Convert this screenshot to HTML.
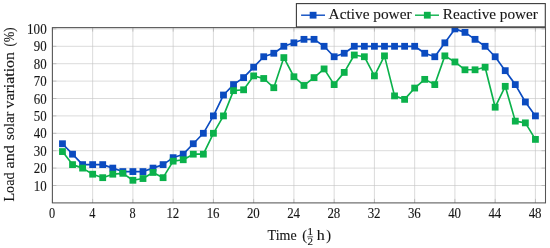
<!DOCTYPE html>
<html><head><meta charset="utf-8"><title>Load and solar variation</title>
<style>html,body{margin:0;padding:0;background:#fff}svg{display:block}</style></head>
<body>
<svg width="550" height="248" viewBox="0 0 550 248">
<rect width="550" height="248" fill="#fff"/>
<path d="M52.40 27.6V202.9M92.65 27.6V202.9M132.90 27.6V202.9M173.16 27.6V202.9M213.41 27.6V202.9M253.66 27.6V202.9M293.91 27.6V202.9M334.16 27.6V202.9M374.42 27.6V202.9M414.67 27.6V202.9M454.92 27.6V202.9M495.17 27.6V202.9M535.42 27.6V202.9M52.4 185.50H545.5M52.4 168.10H545.5M52.4 150.70H545.5M52.4 133.30H545.5M52.4 115.90H545.5M52.4 98.50H545.5M52.4 81.10H545.5M52.4 63.70H545.5M52.4 46.30H545.5M52.4 28.90H545.5" stroke="#c2c2c2" stroke-width="0.6" fill="none"/>
<path d="M52.40 202.9v-4M52.40 27.6v4M92.65 202.9v-4M92.65 27.6v4M132.90 202.9v-4M132.90 27.6v4M173.16 202.9v-4M173.16 27.6v4M213.41 202.9v-4M213.41 27.6v4M253.66 202.9v-4M253.66 27.6v4M293.91 202.9v-4M293.91 27.6v4M334.16 202.9v-4M334.16 27.6v4M374.42 202.9v-4M374.42 27.6v4M414.67 202.9v-4M414.67 27.6v4M454.92 202.9v-4M454.92 27.6v4M495.17 202.9v-4M495.17 27.6v4M535.42 202.9v-4M535.42 27.6v4M52.4 185.50h4M545.5 185.50h-4M52.4 168.10h4M545.5 168.10h-4M52.4 150.70h4M545.5 150.70h-4M52.4 133.30h4M545.5 133.30h-4M52.4 115.90h4M545.5 115.90h-4M52.4 98.50h4M545.5 98.50h-4M52.4 81.10h4M545.5 81.10h-4M52.4 63.70h4M545.5 63.70h-4M52.4 46.30h4M545.5 46.30h-4M52.4 28.90h4M545.5 28.90h-4" stroke="#9a9a9a" stroke-width="0.5" fill="none"/>
<polyline points="62.46,143.74 72.53,154.18 82.59,164.62 92.65,164.62 102.72,164.62 112.78,168.10 122.84,171.58 132.90,171.58 142.97,171.58 153.03,168.10 163.09,164.62 173.16,157.66 183.22,154.18 193.28,143.74 203.35,133.30 213.41,115.90 223.47,95.02 233.53,84.58 243.60,77.62 253.66,67.18 263.72,56.74 273.79,53.26 283.85,46.30 293.91,42.82 303.98,39.34 314.04,39.34 324.10,46.30 334.16,56.74 344.23,53.26 354.29,46.30 364.35,46.30 374.42,46.30 384.48,46.30 394.54,46.30 404.61,46.30 414.67,46.30 424.73,53.26 434.79,56.74 444.86,42.82 454.92,28.90 464.98,32.38 475.05,39.34 485.11,46.30 495.17,56.74 505.24,70.66 515.30,84.58 525.36,101.98 535.42,115.90" fill="none" stroke="#0b4bc0" stroke-width="1.65" stroke-linejoin="round"/><g fill="#0b4bc0"><rect x="59.06" y="140.34" width="6.8" height="6.8"/><rect x="69.13" y="150.78" width="6.8" height="6.8"/><rect x="79.19" y="161.22" width="6.8" height="6.8"/><rect x="89.25" y="161.22" width="6.8" height="6.8"/><rect x="99.31" y="161.22" width="6.8" height="6.8"/><rect x="109.38" y="164.70" width="6.8" height="6.8"/><rect x="119.44" y="168.18" width="6.8" height="6.8"/><rect x="129.50" y="168.18" width="6.8" height="6.8"/><rect x="139.57" y="168.18" width="6.8" height="6.8"/><rect x="149.63" y="164.70" width="6.8" height="6.8"/><rect x="159.69" y="161.22" width="6.8" height="6.8"/><rect x="169.76" y="154.26" width="6.8" height="6.8"/><rect x="179.82" y="150.78" width="6.8" height="6.8"/><rect x="189.88" y="140.34" width="6.8" height="6.8"/><rect x="199.95" y="129.90" width="6.8" height="6.8"/><rect x="210.01" y="112.50" width="6.8" height="6.8"/><rect x="220.07" y="91.62" width="6.8" height="6.8"/><rect x="230.13" y="81.18" width="6.8" height="6.8"/><rect x="240.20" y="74.22" width="6.8" height="6.8"/><rect x="250.26" y="63.78" width="6.8" height="6.8"/><rect x="260.32" y="53.34" width="6.8" height="6.8"/><rect x="270.39" y="49.86" width="6.8" height="6.8"/><rect x="280.45" y="42.90" width="6.8" height="6.8"/><rect x="290.51" y="39.42" width="6.8" height="6.8"/><rect x="300.58" y="35.94" width="6.8" height="6.8"/><rect x="310.64" y="35.94" width="6.8" height="6.8"/><rect x="320.70" y="42.90" width="6.8" height="6.8"/><rect x="330.76" y="53.34" width="6.8" height="6.8"/><rect x="340.83" y="49.86" width="6.8" height="6.8"/><rect x="350.89" y="42.90" width="6.8" height="6.8"/><rect x="360.95" y="42.90" width="6.8" height="6.8"/><rect x="371.02" y="42.90" width="6.8" height="6.8"/><rect x="381.08" y="42.90" width="6.8" height="6.8"/><rect x="391.14" y="42.90" width="6.8" height="6.8"/><rect x="401.21" y="42.90" width="6.8" height="6.8"/><rect x="411.27" y="42.90" width="6.8" height="6.8"/><rect x="421.33" y="49.86" width="6.8" height="6.8"/><rect x="431.39" y="53.34" width="6.8" height="6.8"/><rect x="441.46" y="39.42" width="6.8" height="6.8"/><rect x="451.52" y="25.50" width="6.8" height="6.8"/><rect x="461.58" y="28.98" width="6.8" height="6.8"/><rect x="471.65" y="35.94" width="6.8" height="6.8"/><rect x="481.71" y="42.90" width="6.8" height="6.8"/><rect x="491.77" y="53.34" width="6.8" height="6.8"/><rect x="501.84" y="67.26" width="6.8" height="6.8"/><rect x="511.90" y="81.18" width="6.8" height="6.8"/><rect x="521.96" y="98.58" width="6.8" height="6.8"/><rect x="532.02" y="112.50" width="6.8" height="6.8"/></g>
<polyline points="62.46,151.57 72.53,164.62 82.59,168.10 92.65,174.19 102.72,177.67 112.78,174.19 122.84,173.32 132.90,180.28 142.97,178.54 153.03,172.45 163.09,177.67 173.16,161.14 183.22,159.75 193.28,154.18 203.35,154.18 213.41,133.30 223.47,115.90 233.53,90.67 243.60,89.80 253.66,75.88 263.72,78.49 273.79,87.71 283.85,57.61 293.91,76.75 303.98,85.45 314.04,77.62 324.10,68.92 334.16,84.58 344.23,72.40 354.29,55.00 364.35,56.74 374.42,75.88 384.48,55.87 394.54,95.89 404.61,99.37 414.67,88.06 424.73,79.36 434.79,84.58 444.86,55.87 454.92,61.96 464.98,69.79 475.05,69.79 485.11,67.18 495.17,107.20 505.24,86.32 515.30,121.12 525.36,122.86 535.42,139.39" fill="none" stroke="#0bb14b" stroke-width="1.65" stroke-linejoin="round"/><g fill="#0bb14b"><rect x="59.06" y="148.17" width="6.8" height="6.8"/><rect x="69.13" y="161.22" width="6.8" height="6.8"/><rect x="79.19" y="164.70" width="6.8" height="6.8"/><rect x="89.25" y="170.79" width="6.8" height="6.8"/><rect x="99.31" y="174.27" width="6.8" height="6.8"/><rect x="109.38" y="170.79" width="6.8" height="6.8"/><rect x="119.44" y="169.92" width="6.8" height="6.8"/><rect x="129.50" y="176.88" width="6.8" height="6.8"/><rect x="139.57" y="175.14" width="6.8" height="6.8"/><rect x="149.63" y="169.05" width="6.8" height="6.8"/><rect x="159.69" y="174.27" width="6.8" height="6.8"/><rect x="169.76" y="157.74" width="6.8" height="6.8"/><rect x="179.82" y="156.35" width="6.8" height="6.8"/><rect x="189.88" y="150.78" width="6.8" height="6.8"/><rect x="199.95" y="150.78" width="6.8" height="6.8"/><rect x="210.01" y="129.90" width="6.8" height="6.8"/><rect x="220.07" y="112.50" width="6.8" height="6.8"/><rect x="230.13" y="87.27" width="6.8" height="6.8"/><rect x="240.20" y="86.40" width="6.8" height="6.8"/><rect x="250.26" y="72.48" width="6.8" height="6.8"/><rect x="260.32" y="75.09" width="6.8" height="6.8"/><rect x="270.39" y="84.31" width="6.8" height="6.8"/><rect x="280.45" y="54.21" width="6.8" height="6.8"/><rect x="290.51" y="73.35" width="6.8" height="6.8"/><rect x="300.58" y="82.05" width="6.8" height="6.8"/><rect x="310.64" y="74.22" width="6.8" height="6.8"/><rect x="320.70" y="65.52" width="6.8" height="6.8"/><rect x="330.76" y="81.18" width="6.8" height="6.8"/><rect x="340.83" y="69.00" width="6.8" height="6.8"/><rect x="350.89" y="51.60" width="6.8" height="6.8"/><rect x="360.95" y="53.34" width="6.8" height="6.8"/><rect x="371.02" y="72.48" width="6.8" height="6.8"/><rect x="381.08" y="52.47" width="6.8" height="6.8"/><rect x="391.14" y="92.49" width="6.8" height="6.8"/><rect x="401.21" y="95.97" width="6.8" height="6.8"/><rect x="411.27" y="84.66" width="6.8" height="6.8"/><rect x="421.33" y="75.96" width="6.8" height="6.8"/><rect x="431.39" y="81.18" width="6.8" height="6.8"/><rect x="441.46" y="52.47" width="6.8" height="6.8"/><rect x="451.52" y="58.56" width="6.8" height="6.8"/><rect x="461.58" y="66.39" width="6.8" height="6.8"/><rect x="471.65" y="66.39" width="6.8" height="6.8"/><rect x="481.71" y="63.78" width="6.8" height="6.8"/><rect x="491.77" y="103.80" width="6.8" height="6.8"/><rect x="501.84" y="82.92" width="6.8" height="6.8"/><rect x="511.90" y="117.72" width="6.8" height="6.8"/><rect x="521.96" y="119.46" width="6.8" height="6.8"/><rect x="532.02" y="135.99" width="6.8" height="6.8"/></g>
<rect x="52.4" y="27.6" width="493.1" height="175.3" fill="none" stroke="#555" stroke-width="1.05"/>
<rect x="296.4" y="3.6" width="248.89999999999998" height="23.299999999999997" fill="#fff" stroke="#3a3a3a" stroke-width="1.1"/>
<path d="M301.1 15.2H325" stroke="#0b4bc0" stroke-width="1.4"/><rect x="309.7" y="11.8" width="6.8" height="6.8" fill="#0b4bc0"/>
<path d="M415 15.2H439" stroke="#0bb14b" stroke-width="1.4"/><rect x="423.9" y="11.8" width="6.8" height="6.8" fill="#0bb14b"/>
<text x="328.6" y="19.4" font-size="15.2" textLength="83.0" lengthAdjust="spacingAndGlyphs" font-family="'Liberation Serif', serif" fill="#161616" stroke="#161616" stroke-width="0.12">Active power</text>
<text x="442.8" y="19.4" font-size="15.2" textLength="95.0" lengthAdjust="spacingAndGlyphs" font-family="'Liberation Serif', serif" fill="#161616" stroke="#161616" stroke-width="0.12">Reactive power</text>
<text x="49.02" y="217.5" font-size="14.2" textLength="6.15" lengthAdjust="spacingAndGlyphs" font-family="'Liberation Serif', serif" fill="#161616" stroke="#161616" stroke-width="0.12">0</text>
<text x="89.28" y="217.5" font-size="14.2" textLength="6.15" lengthAdjust="spacingAndGlyphs" font-family="'Liberation Serif', serif" fill="#161616" stroke="#161616" stroke-width="0.12">4</text>
<text x="129.53" y="217.5" font-size="14.2" textLength="6.15" lengthAdjust="spacingAndGlyphs" font-family="'Liberation Serif', serif" fill="#161616" stroke="#161616" stroke-width="0.12">8</text>
<text x="166.41" y="217.5" font-size="14.2" textLength="12.90" lengthAdjust="spacingAndGlyphs" font-family="'Liberation Serif', serif" fill="#161616" stroke="#161616" stroke-width="0.12">12</text>
<text x="206.66" y="217.5" font-size="14.2" textLength="12.90" lengthAdjust="spacingAndGlyphs" font-family="'Liberation Serif', serif" fill="#161616" stroke="#161616" stroke-width="0.12">16</text>
<text x="246.91" y="217.5" font-size="14.2" textLength="12.90" lengthAdjust="spacingAndGlyphs" font-family="'Liberation Serif', serif" fill="#161616" stroke="#161616" stroke-width="0.12">20</text>
<text x="287.16" y="217.5" font-size="14.2" textLength="12.90" lengthAdjust="spacingAndGlyphs" font-family="'Liberation Serif', serif" fill="#161616" stroke="#161616" stroke-width="0.12">24</text>
<text x="327.41" y="217.5" font-size="14.2" textLength="12.90" lengthAdjust="spacingAndGlyphs" font-family="'Liberation Serif', serif" fill="#161616" stroke="#161616" stroke-width="0.12">28</text>
<text x="367.67" y="217.5" font-size="14.2" textLength="12.90" lengthAdjust="spacingAndGlyphs" font-family="'Liberation Serif', serif" fill="#161616" stroke="#161616" stroke-width="0.12">32</text>
<text x="407.92" y="217.5" font-size="14.2" textLength="12.90" lengthAdjust="spacingAndGlyphs" font-family="'Liberation Serif', serif" fill="#161616" stroke="#161616" stroke-width="0.12">36</text>
<text x="448.17" y="217.5" font-size="14.2" textLength="12.90" lengthAdjust="spacingAndGlyphs" font-family="'Liberation Serif', serif" fill="#161616" stroke="#161616" stroke-width="0.12">40</text>
<text x="488.42" y="217.5" font-size="14.2" textLength="12.90" lengthAdjust="spacingAndGlyphs" font-family="'Liberation Serif', serif" fill="#161616" stroke="#161616" stroke-width="0.12">44</text>
<text x="528.67" y="217.5" font-size="14.2" textLength="12.90" lengthAdjust="spacingAndGlyphs" font-family="'Liberation Serif', serif" fill="#161616" stroke="#161616" stroke-width="0.12">48</text>
<text x="33.80" y="190.50" font-size="14.2" textLength="12.90" lengthAdjust="spacingAndGlyphs" font-family="'Liberation Serif', serif" fill="#161616" stroke="#161616" stroke-width="0.12">10</text>
<text x="33.80" y="173.10" font-size="14.2" textLength="12.90" lengthAdjust="spacingAndGlyphs" font-family="'Liberation Serif', serif" fill="#161616" stroke="#161616" stroke-width="0.12">20</text>
<text x="33.80" y="155.70" font-size="14.2" textLength="12.90" lengthAdjust="spacingAndGlyphs" font-family="'Liberation Serif', serif" fill="#161616" stroke="#161616" stroke-width="0.12">30</text>
<text x="33.80" y="138.30" font-size="14.2" textLength="12.90" lengthAdjust="spacingAndGlyphs" font-family="'Liberation Serif', serif" fill="#161616" stroke="#161616" stroke-width="0.12">40</text>
<text x="33.80" y="120.90" font-size="14.2" textLength="12.90" lengthAdjust="spacingAndGlyphs" font-family="'Liberation Serif', serif" fill="#161616" stroke="#161616" stroke-width="0.12">50</text>
<text x="33.80" y="103.50" font-size="14.2" textLength="12.90" lengthAdjust="spacingAndGlyphs" font-family="'Liberation Serif', serif" fill="#161616" stroke="#161616" stroke-width="0.12">60</text>
<text x="33.80" y="86.10" font-size="14.2" textLength="12.90" lengthAdjust="spacingAndGlyphs" font-family="'Liberation Serif', serif" fill="#161616" stroke="#161616" stroke-width="0.12">70</text>
<text x="33.80" y="68.70" font-size="14.2" textLength="12.90" lengthAdjust="spacingAndGlyphs" font-family="'Liberation Serif', serif" fill="#161616" stroke="#161616" stroke-width="0.12">80</text>
<text x="33.80" y="51.30" font-size="14.2" textLength="12.90" lengthAdjust="spacingAndGlyphs" font-family="'Liberation Serif', serif" fill="#161616" stroke="#161616" stroke-width="0.12">90</text>
<text x="27.05" y="33.90" font-size="14.2" textLength="19.65" lengthAdjust="spacingAndGlyphs" font-family="'Liberation Serif', serif" fill="#161616" stroke="#161616" stroke-width="0.12">100</text>
<g transform="translate(13.6 201.6) rotate(-90)">
<text x="0" y="0" font-size="14" textLength="29.1" lengthAdjust="spacingAndGlyphs" font-family="'Liberation Serif', serif" fill="#161616" stroke="#161616" stroke-width="0.12">Load</text>
<text x="33.1" y="0" font-size="14" textLength="23.4" lengthAdjust="spacingAndGlyphs" font-family="'Liberation Serif', serif" fill="#161616" stroke="#161616" stroke-width="0.12">and</text>
<text x="61.7" y="0" font-size="14" textLength="28.3" lengthAdjust="spacingAndGlyphs" font-family="'Liberation Serif', serif" fill="#161616" stroke="#161616" stroke-width="0.12">solar</text>
<text x="93.2" y="0" font-size="14" textLength="56.3" lengthAdjust="spacingAndGlyphs" font-family="'Liberation Serif', serif" fill="#161616" stroke="#161616" stroke-width="0.12">variation</text>
<text x="155.1" y="0" font-size="14" textLength="19.0" lengthAdjust="spacingAndGlyphs" font-family="'Liberation Serif', serif" fill="#161616" stroke="#161616" stroke-width="0.12">(%)</text>
</g>
<text x="267.6" y="240.2" font-size="14.4" textLength="29.0" lengthAdjust="spacingAndGlyphs" font-family="'Liberation Serif', serif" fill="#161616" stroke="#161616" stroke-width="0.12">Time</text>
<text x="302.2" y="240.2" font-size="14.4" font-family="'Liberation Serif', serif" fill="#161616" stroke="#161616" stroke-width="0.12">(</text>
<text x="310.2" y="235.4" font-size="11" text-anchor="middle" font-family="'Liberation Serif', serif" fill="#161616" stroke="#161616" stroke-width="0.12">1</text>
<path d="M307.2 236.8H313.1" stroke="#161616" stroke-width="0.7"/>
<text x="310.2" y="245.0" font-size="11" text-anchor="middle" font-family="'Liberation Serif', serif" fill="#161616" stroke="#161616" stroke-width="0.12">2</text>
<text x="316.7" y="240.2" font-size="14.4" textLength="8.0" lengthAdjust="spacingAndGlyphs" font-family="'Liberation Serif', serif" fill="#161616" stroke="#161616" stroke-width="0.12">h</text>
<text x="326.2" y="240.2" font-size="14.4" font-family="'Liberation Serif', serif" fill="#161616" stroke="#161616" stroke-width="0.12">)</text>
</svg>
</body></html>
